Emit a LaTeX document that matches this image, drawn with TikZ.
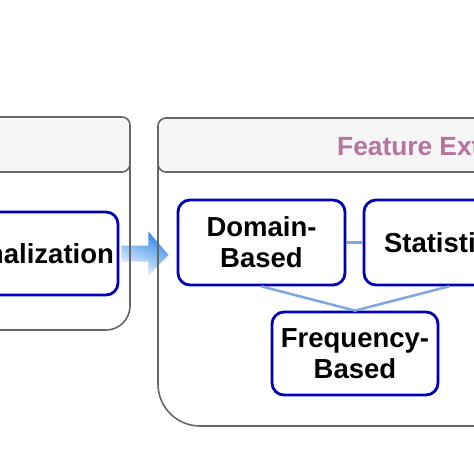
\documentclass[tikz,border=0pt]{standalone}
\usepackage{fontspec}
\setmainfont{Liberation Sans}
\usetikzlibrary{calc}
\definecolor{boxblue}{RGB}{0,0,185}
\definecolor{linkblue}{HTML}{7EA6E0}
\definecolor{hdrfill}{HTML}{F5F5F5}
\definecolor{hdrline}{HTML}{666666}
\definecolor{titlecol}{HTML}{B5739D}
\definecolor{arrdark}{HTML}{2F86E8}
\definecolor{arrlight}{HTML}{F2F9FF}
\pgfdeclarelayer{bg}
\pgfsetlayers{bg,main}
\begin{document}
\begin{tikzpicture}[x=1pt,y=-1pt,
  container/.style={draw=hdrline,line width=1.6pt},
  header/.style={draw=hdrline,fill=hdrfill,line width=1.6pt,rounded corners=8pt},
  stepbox/.style={draw=boxblue,line width=2.8pt,rounded corners=12pt,fill=white,
    align=center,inner sep=0pt,font=\bfseries\fontsize{27.5}{31}\selectfont},
  link/.style={draw=linkblue,line width=2.5pt},
  titletext/.style={text=titlecol,font=\bfseries\fontsize{26.3}{30}\selectfont,inner sep=0pt}
]
\useasboundingbox (0,0) rectangle (474,474);
\clip (0,0) rectangle (474,474);

% left container
\draw[container,rounded corners=24pt] (-300,117) rectangle (130,330);
\draw[header] (-300,117) rectangle (130,172);
% right container
\draw[container,rounded corners=42pt] (158,118) rectangle (800,426);
\draw[header] (158,118) rectangle (800,172);
\node[titletext,anchor=base west] (title) at (337,155) {Feature Extraction};

% boxes
\node[stepbox,minimum width=190pt,minimum height=83pt] (norm) at (23,253.5) {Normalization};
\node[stepbox,minimum width=167pt,minimum height=85pt] (dom) at (261.5,242.5) {Domain-\\Based};
\node[stepbox,minimum width=170pt,minimum height=85pt] (stat) at (449,242.5) {Statistical};
\node[stepbox,minimum width=166pt,minimum height=83pt] (freq) at (355,353.5) {Frequency-\\Based};

% links
\draw[link] (dom.east) -- (stat.west);
\draw[link] (dom.south) -- (freq.north);
\draw[link] (stat.south) -- (freq.north);

% background and block arrow
\begin{pgfonlayer}{bg}
\fill[white] (0,0) rectangle (474,474);
\coordinate (as) at ($(norm.east)+(2,0)$);
\coordinate (at) at ($(dom.west)+(-8,12.5)$);
\path[shading=axis,top color=arrdark,bottom color=arrlight,shading angle=-25]
  ($(as)+(0,-8)$) -- ($(as)+(27,-8)$) -- ($(as)+(27,-22)$) -- (at)
  -- ($(as)+(27,22)$) -- ($(as)+(27,8)$) -- ($(as)+(0,8)$) -- cycle;
\end{pgfonlayer}
\end{tikzpicture}
\end{document}
